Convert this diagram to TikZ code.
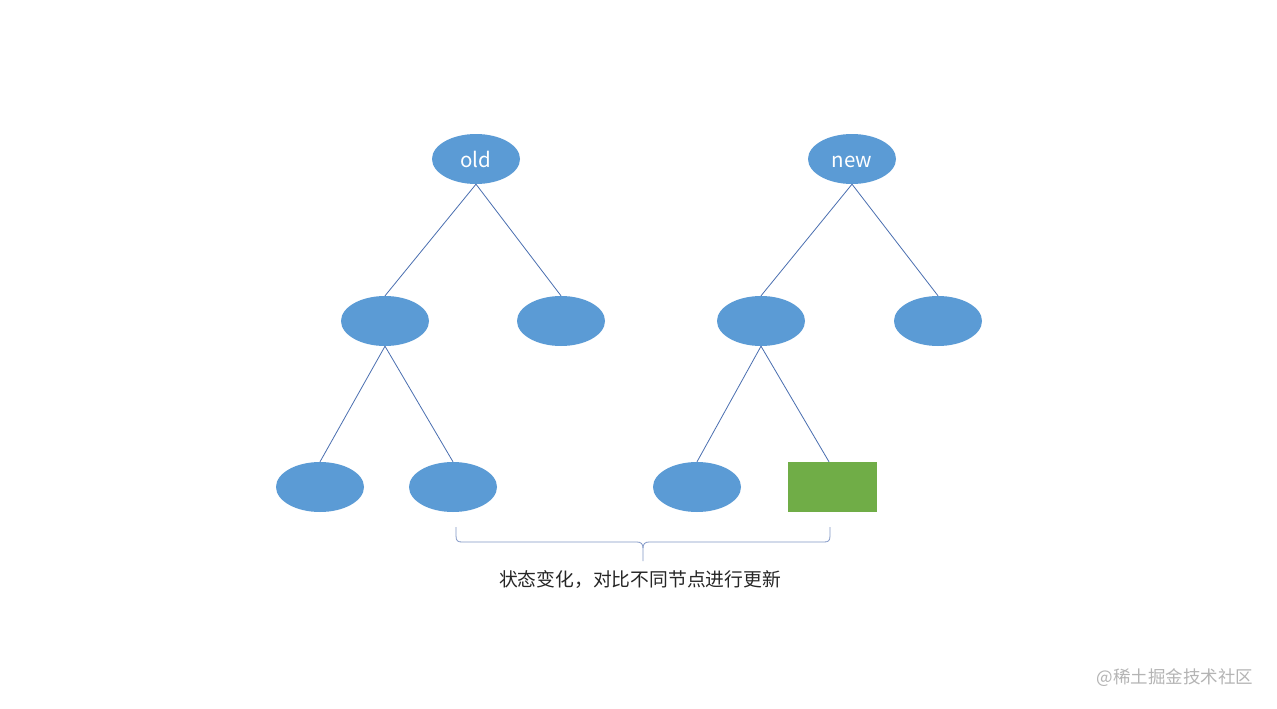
\documentclass[tikz,border=0pt]{standalone}
\usepackage{fontspec}
\setmainfont{Noto Sans CJK SC}
\usetikzlibrary{shapes.geometric}
\definecolor{nodeblue}{HTML}{5B9BD5}
\definecolor{leafgreen}{HTML}{70AD47}
\definecolor{edgeblue}{HTML}{4A6FB0}
\definecolor{bracecol}{HTML}{8197C6}
\definecolor{wmgray}{HTML}{B4B4B4}
\tikzset{
  tnode/.style={ellipse, fill=nodeblue, draw=none, minimum width=88pt, minimum height=50pt, inner sep=0pt, text=white, text height=21pt, text depth=4pt, font=\fontsize{20.5pt}{20.5pt}\selectfont},
  gbox/.style={rectangle, fill=leafgreen, draw=none, minimum width=89pt, minimum height=50pt, inner sep=0pt},
  edge/.style={draw=edgeblue, line width=0.8pt},
}
\begin{document}
\begin{tikzpicture}[x=1pt,y=-1pt]
\useasboundingbox (0,0) rectangle (1277,709);
\fill[white] (0,0) rectangle (1277,709);
% nodes
\node[tnode] (old) at (476,159) {old};
\node[tnode] (new) at (852,159) {new};
\node[tnode] (la) at (385,321) {};
\node[tnode] (lb) at (561,321) {};
\node[tnode] (ra) at (761,321) {};
\node[tnode] (rb) at (938,321) {};
\node[tnode] (laa) at (320,487) {};
\node[tnode] (lab) at (453,487) {};
\node[tnode] (raa) at (697,487) {};
\node[gbox] (rab) at (832.5,487) {};
% edges
\draw[edge] (old.south) -- (la.north);
\draw[edge] (old.south) -- (lb.north);
\draw[edge] (new.south) -- (ra.north);
\draw[edge] (new.south) -- (rb.north);
\draw[edge] (la.south) -- (laa.north);
\draw[edge] (la.south) -- (lab.north);
\draw[edge] (ra.south) -- (raa.north);
\draw[edge] (ra.south) -- (rab.north -| 829,0);
% brace
\coordinate (bl) at (456,527);
\coordinate (br) at (830,527);
\coordinate (bt) at (643,561);
\draw[draw=bracecol, line width=0.8pt] (bl) -- (456,536) .. controls (456,541) and (458,542) .. (462,542)
  -- (637,542) .. controls (641,542) and (643,544) .. (643,548) -- (bt);
\draw[draw=bracecol, line width=0.8pt] (br) -- (830,536) .. controls (830,541) and (828,542) .. (824,542)
  -- (649,542) .. controls (645,542) and (643,544) .. (643,548);
\node[font=\fontsize{18.8pt}{18.8pt}\selectfont, text=black!85] (cap) at (640,580) {状态变化，对比不同节点进行更新};
\node[font=\fontsize{17.5pt}{17.5pt}\selectfont, text=wmgray, anchor=east] (wm) at (1257,678) {@稀土掘金技术社区};
\end{tikzpicture}
\end{document}
